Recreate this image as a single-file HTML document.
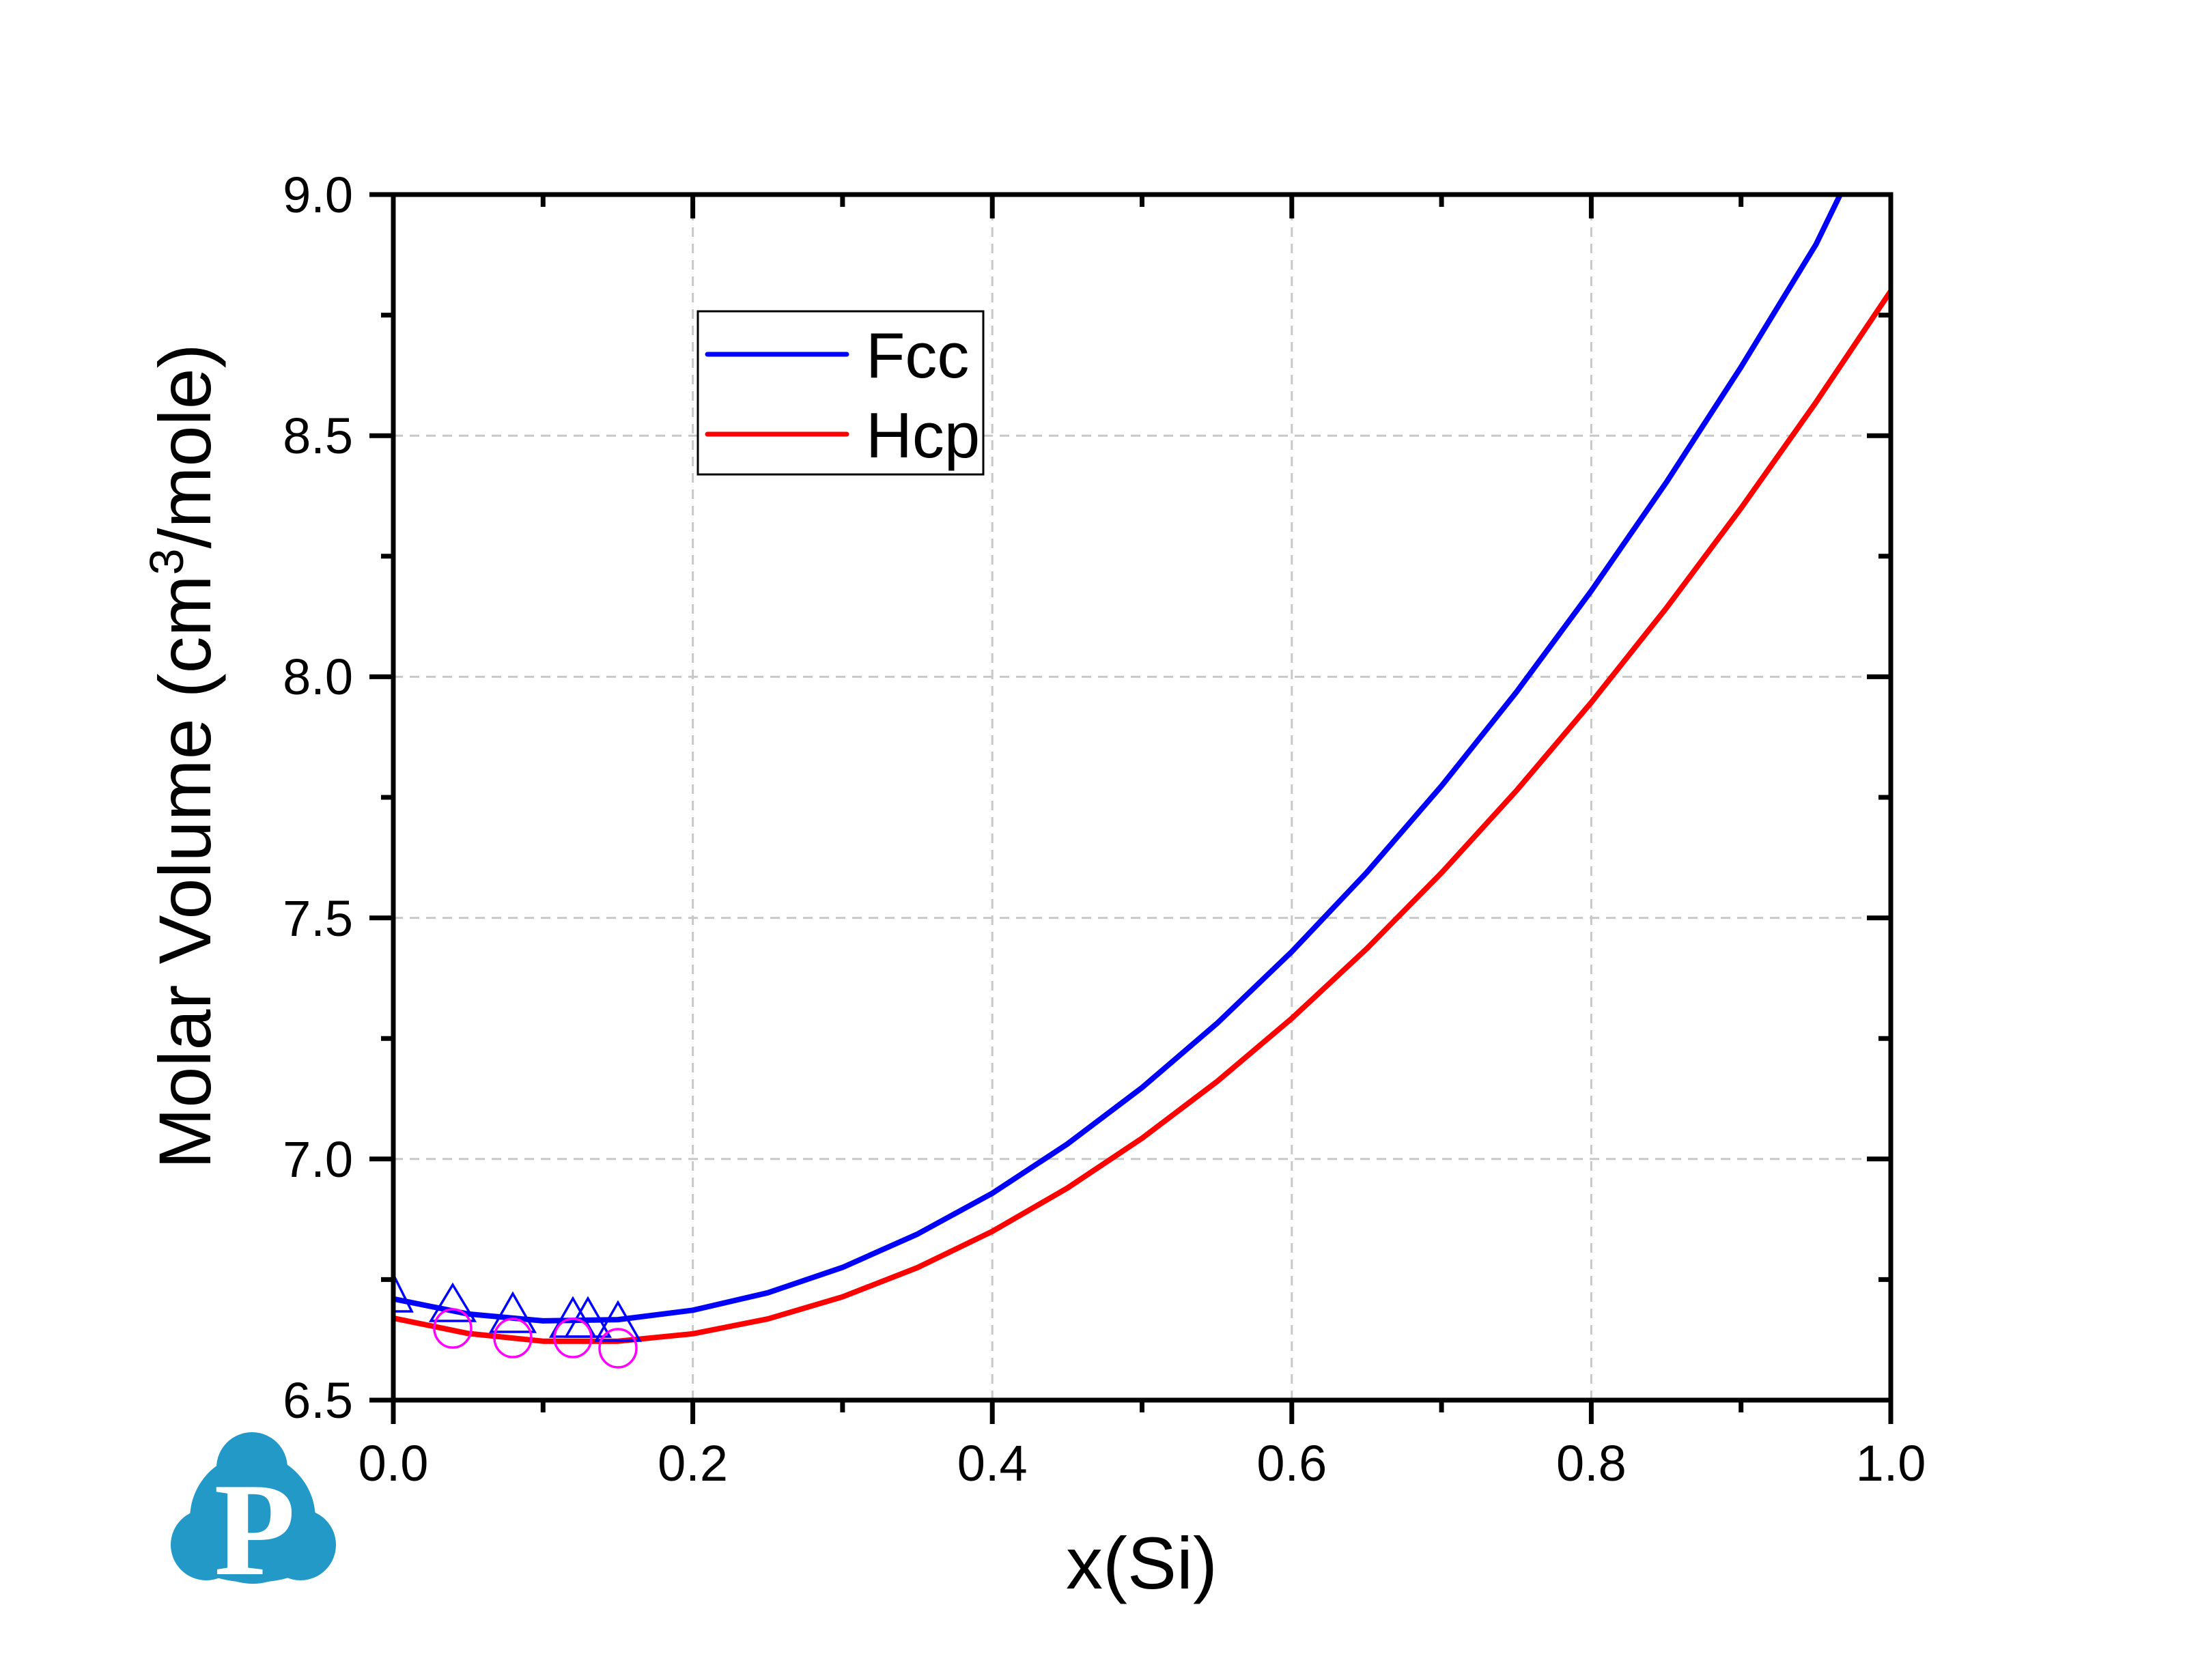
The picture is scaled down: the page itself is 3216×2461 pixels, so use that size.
<!DOCTYPE html>
<html><head><meta charset="utf-8"><style>html,body{margin:0;padding:0;background:#fff}svg{display:block}</style></head>
<body>
<svg width="3216" height="2461" viewBox="0 0 3216 2461" xmlns="http://www.w3.org/2000/svg" font-family="'Liberation Sans', sans-serif">
<rect width="3216" height="2461" fill="#fff"/>
<g stroke="#c8c8c8" stroke-width="3" stroke-dasharray="14,10" fill="none">
<line x1="1014.6" y1="285" x2="1014.6" y2="2051"/>
<line x1="1453.2" y1="285" x2="1453.2" y2="2051"/>
<line x1="1891.8" y1="285" x2="1891.8" y2="2051"/>
<line x1="2330.4" y1="285" x2="2330.4" y2="2051"/>
<line x1="576" y1="638.2" x2="2769" y2="638.2"/>
<line x1="576" y1="991.4" x2="2769" y2="991.4"/>
<line x1="576" y1="1344.6" x2="2769" y2="1344.6"/>
<line x1="576" y1="1697.8" x2="2769" y2="1697.8"/>
</g>
<polyline fill="none" stroke="#ff0000" stroke-width="8" stroke-linejoin="round" points="576,1930.9 685.7,1953.4 795.3,1964.7 905,1964.7 1014.6,1953.8 1124.3,1932.1 1233.9,1899.7 1343.6,1856.9 1453.2,1803.8 1562.9,1740.5 1672.5,1667.4 1782.2,1584.4 1891.8,1491.8 2001.5,1389.8 2111.1,1278.6 2220.8,1158.2 2330.4,1029 2440.1,891 2549.7,744.4 2659.4,589.4 2769,426.3"/>
<polyline fill="none" stroke="#0000ff" stroke-width="8" stroke-linejoin="round" points="576,1902.7 685.7,1924.8 795.3,1934.9 905,1933.1 1014.6,1919.3 1124.3,1893.8 1233.9,1856.6 1343.6,1807.8 1453.2,1748 1562.9,1676 1672.5,1593.2 1782.2,1499.2 1891.8,1394.1 2001.5,1278.1 2111.1,1151.3 2220.8,1013.8 2330.4,865.5 2440.1,706.9 2549.7,537.7 2659.4,358.2 2695,285"/>
<g fill="none" stroke="#0000ff" stroke-width="3.5">
<polygon points="576,1867 603,1921 576,1921"/>
<polygon points="663,1882 695,1935 631,1935"/>
<polygon points="751,1895 783,1951 719,1951"/>
<polygon points="839,1902 871,1958 807,1958"/>
<polygon points="861,1902 893,1958 829,1958"/>
<polygon points="905,1908 937,1964 873,1964"/>
</g>
<g fill="none" stroke="#ff00ff" stroke-width="3.5">
<ellipse cx="663" cy="1946" rx="27" ry="28"/>
<ellipse cx="751" cy="1960" rx="27" ry="28"/>
<ellipse cx="839" cy="1960" rx="27" ry="28"/>
<ellipse cx="905" cy="1975" rx="27" ry="28"/>
</g>
<rect x="576" y="285" width="2193" height="1766" fill="none" stroke="#000" stroke-width="7"/>
<g stroke="#000" stroke-width="7">
<line x1="541" y1="285" x2="576" y2="285"/><line x1="541" y1="638.2" x2="576" y2="638.2"/><line x1="541" y1="991.4" x2="576" y2="991.4"/><line x1="541" y1="1344.6" x2="576" y2="1344.6"/><line x1="541" y1="1697.8" x2="576" y2="1697.8"/><line x1="541" y1="2051" x2="576" y2="2051"/>
<line x1="558" y1="461.6" x2="576" y2="461.6"/><line x1="558" y1="814.8" x2="576" y2="814.8"/><line x1="558" y1="1168" x2="576" y2="1168"/><line x1="558" y1="1521.2" x2="576" y2="1521.2"/><line x1="558" y1="1874.4" x2="576" y2="1874.4"/>
<line x1="2769" y1="638.2" x2="2734" y2="638.2"/><line x1="2769" y1="991.4" x2="2734" y2="991.4"/><line x1="2769" y1="1344.6" x2="2734" y2="1344.6"/><line x1="2769" y1="1697.8" x2="2734" y2="1697.8"/>
<line x1="2769" y1="461.6" x2="2751" y2="461.6"/><line x1="2769" y1="814.8" x2="2751" y2="814.8"/><line x1="2769" y1="1168" x2="2751" y2="1168"/><line x1="2769" y1="1521.2" x2="2751" y2="1521.2"/><line x1="2769" y1="1874.4" x2="2751" y2="1874.4"/>
<line x1="576" y1="2051" x2="576" y2="2086"/><line x1="1014.6" y1="2051" x2="1014.6" y2="2086"/><line x1="1453.2" y1="2051" x2="1453.2" y2="2086"/><line x1="1891.8" y1="2051" x2="1891.8" y2="2086"/><line x1="2330.4" y1="2051" x2="2330.4" y2="2086"/><line x1="2769" y1="2051" x2="2769" y2="2086"/>
<line x1="795.3" y1="2051" x2="795.3" y2="2069"/><line x1="1233.9" y1="2051" x2="1233.9" y2="2069"/><line x1="1672.5" y1="2051" x2="1672.5" y2="2069"/><line x1="2111.1" y1="2051" x2="2111.1" y2="2069"/><line x1="2549.7" y1="2051" x2="2549.7" y2="2069"/>
<line x1="1014.6" y1="285" x2="1014.6" y2="320"/><line x1="1453.2" y1="285" x2="1453.2" y2="320"/><line x1="1891.8" y1="285" x2="1891.8" y2="320"/><line x1="2330.4" y1="285" x2="2330.4" y2="320"/>
<line x1="795.3" y1="285" x2="795.3" y2="303"/><line x1="1233.9" y1="285" x2="1233.9" y2="303"/><line x1="1672.5" y1="285" x2="1672.5" y2="303"/><line x1="2111.1" y1="285" x2="2111.1" y2="303"/><line x1="2549.7" y1="285" x2="2549.7" y2="303"/>
</g>
<g font-size="74" fill="#000" text-anchor="end">
<text x="517" y="311">9.0</text><text x="517" y="664">8.5</text><text x="517" y="1017">8.0</text><text x="517" y="1371">7.5</text><text x="517" y="1724">7.0</text><text x="517" y="2077">6.5</text>
</g>
<g font-size="74" fill="#000" text-anchor="middle">
<text x="576" y="2169">0.0</text><text x="1014.6" y="2169">0.2</text><text x="1453.2" y="2169">0.4</text><text x="1891.8" y="2169">0.6</text><text x="2330.4" y="2169">0.8</text><text x="2769" y="2169">1.0</text>
</g>
<text x="1672" y="2327" font-size="108" text-anchor="middle">x(Si)</text>
<text transform="translate(308,1108) rotate(-90)" font-size="108" text-anchor="middle">Molar Volume (cm<tspan font-size="70" dy="-40">3</tspan><tspan dy="40">/mole)</tspan></text>
<rect x="1022" y="456" width="418" height="239" fill="#fff" stroke="#000" stroke-width="3"/>
<line x1="1036" y1="519" x2="1240" y2="519" stroke="#0000ff" stroke-width="7" stroke-linecap="round"/>
<line x1="1036" y1="636" x2="1240" y2="636" stroke="#ff0000" stroke-width="7" stroke-linecap="round"/>
<text x="1268" y="553" font-size="94">Fcc</text>
<text x="1268" y="670" font-size="94">Hcp</text>
<g fill="#2299c6">
<circle cx="369" cy="2150" r="52"/>
<ellipse cx="370" cy="2225" rx="92" ry="95"/>
<circle cx="302" cy="2263" r="52"/>
<circle cx="440" cy="2263" r="52"/>
<ellipse cx="370" cy="2290" rx="80" ry="28"/>
</g>
<text x="373" y="2306" font-family="'Liberation Serif', serif" font-weight="bold" font-size="195" fill="#fff" text-anchor="middle">P</text>
</svg>
</body></html>
